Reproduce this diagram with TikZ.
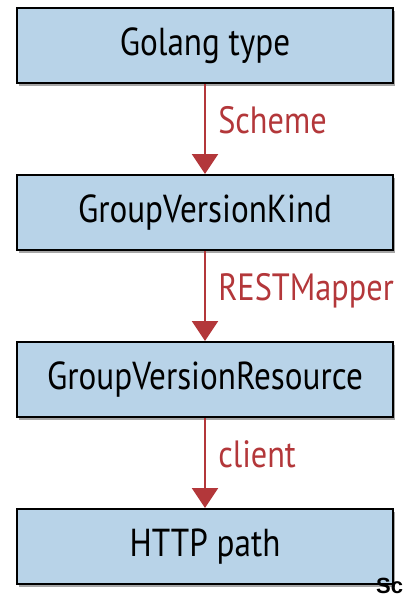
\documentclass[tikz,border=0pt]{standalone}
\usepackage{fontspec}
\setmainfont{PT Sans}[FakeStretch=0.85]
\newfontfamily\arialfont{Liberation Sans}
\usepackage{tikz}
\usetikzlibrary{positioning,arrows.meta,shadows}

\definecolor{boxblue}{HTML}{B8D3E8}
\definecolor{arrowred}{HTML}{B3373A}

\begin{document}
\begin{tikzpicture}[x=1pt,y=-1pt,
    typebox/.style={shape=rectangle, draw=black, line width=2pt, fill=boxblue,
                    minimum width=376pt, minimum height=75pt, inner sep=0pt,
                    font=\fontsize{39}{41}\selectfont,
                    drop shadow={shadow xshift=2pt, shadow yshift=-3pt, fill=black, opacity=0.35}},
    maparrow/.style={draw=arrowred, line width=2.5pt, -{Triangle[length=20pt, width=26pt]}},
    maplabel/.style={text=arrowred, font=\fontsize{38}{40}\selectfont, anchor=base west, inner sep=0pt},
    node distance=90pt]
    \useasboundingbox (0,0) rectangle (404,594);
    % the four boxes, top to bottom
    \node[typebox] (golang) at (205,45.5) {Golang type};
    \node[typebox, below=of golang] (gvk) {GroupVersionKind};
    \node[typebox, below=of gvk] (gvr) {GroupVersionResource};
    \node[typebox, below=of gvr] (http) {HTTP path};
    % mapping arrows
    \draw[maparrow] (golang.south) -- (gvk.north) node[maplabel, midway, xshift=12pt, yshift=-4pt] {Scheme};
    \draw[maparrow] (gvk.south) -- (gvr.north) node[maplabel, midway, xshift=12pt, yshift=-4pt] {RESTMapper};
    \draw[maparrow] (gvr.south) -- (http.north) node[maplabel, midway, xshift=12pt, yshift=-4pt] {client};
    \node[anchor=base west, inner sep=0pt] (sc) at (376,593) {\arialfont\bfseries\fontsize{22}{24}\selectfont Sc};
\end{tikzpicture}
\end{document}
